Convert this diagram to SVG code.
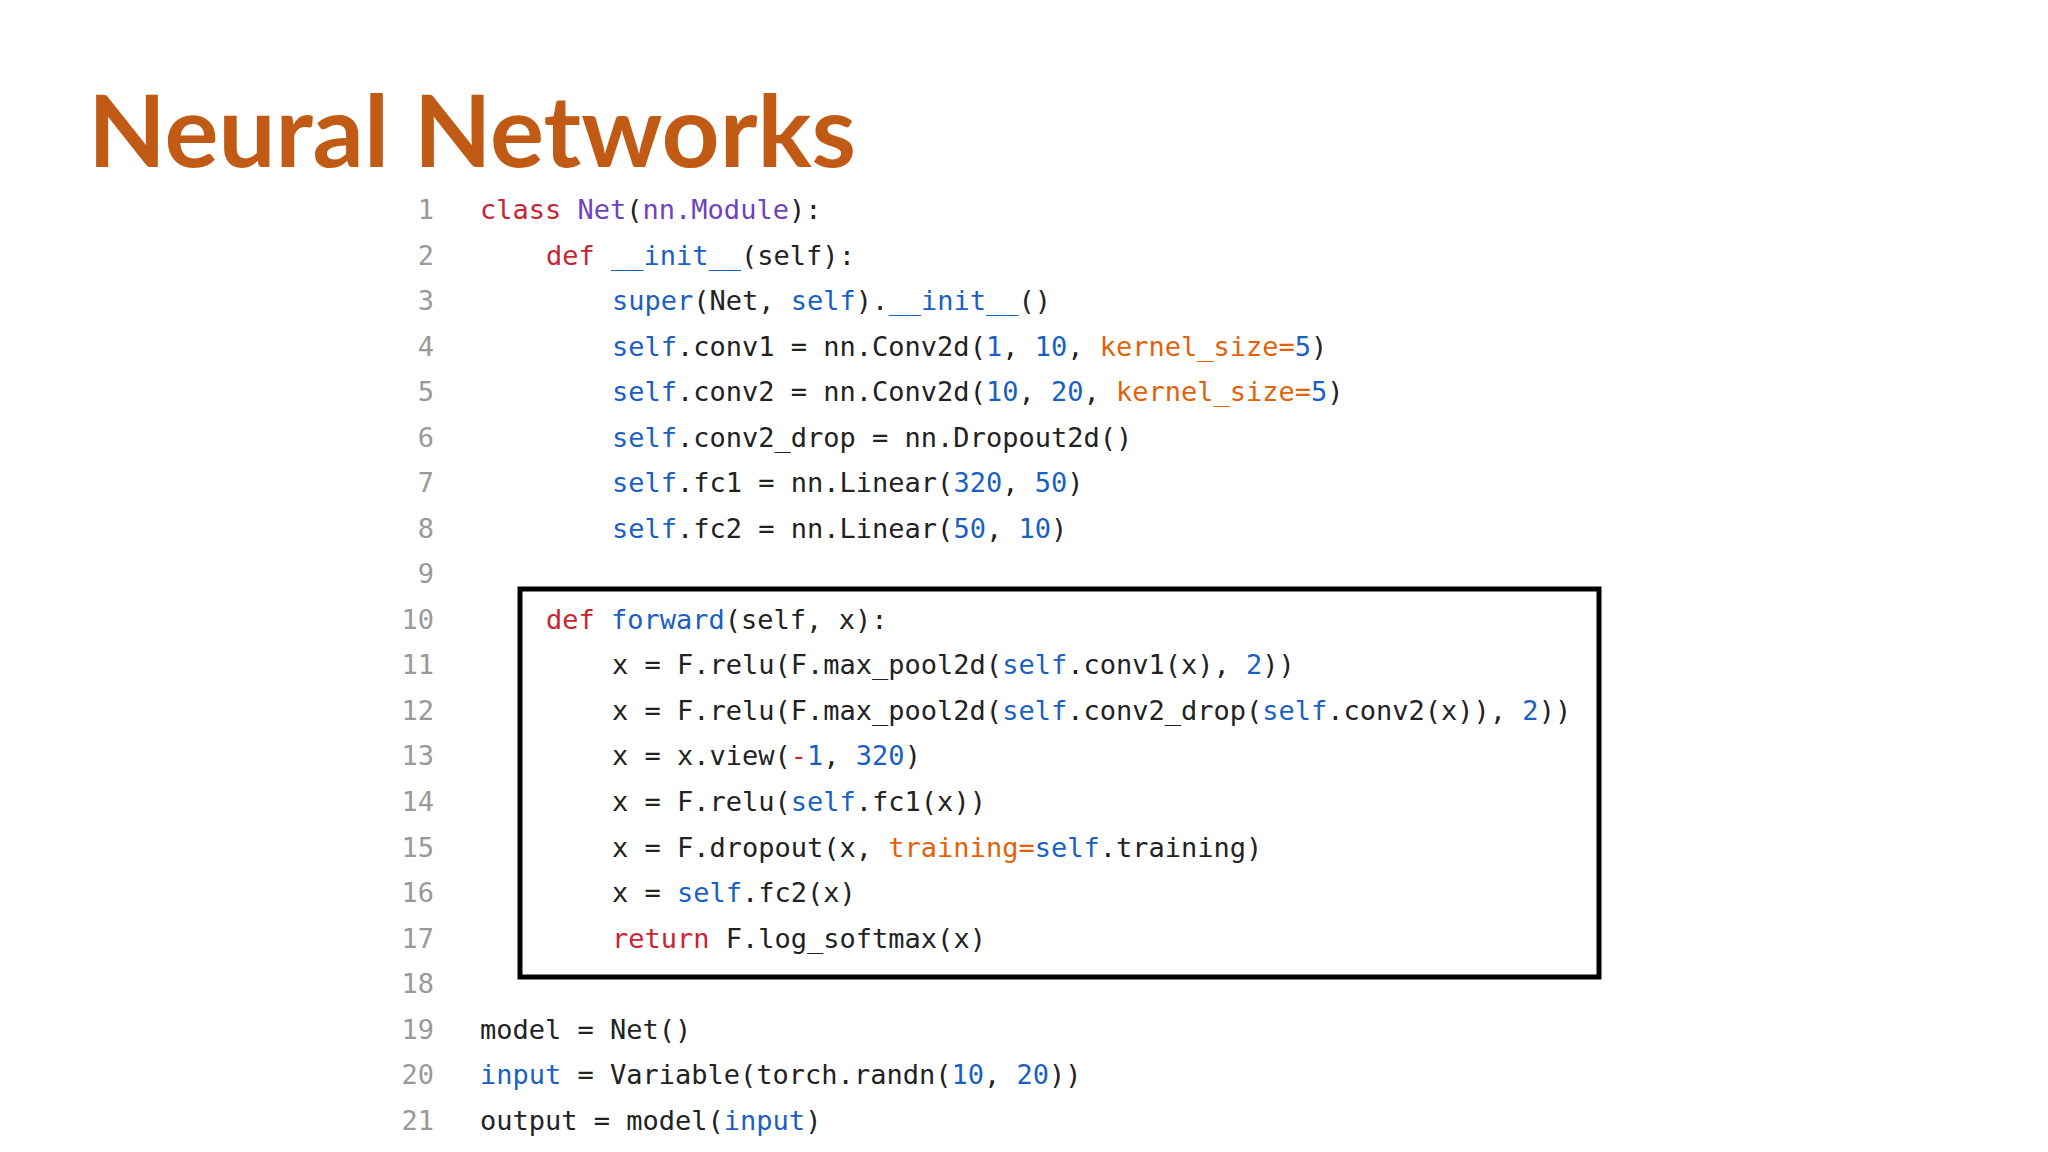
<svg xmlns="http://www.w3.org/2000/svg" width="2048" height="1152" viewBox="0 0 2048 1152">
<style>
.c{font-family:"DejaVu Sans Mono","Liberation Mono",monospace;font-size:27px;fill:#222}
.n{font-family:"DejaVu Sans Mono",monospace;font-size:27px;fill:#999;text-anchor:end}
.k{fill:#cb2431}.s{fill:#1a5fc4}.p{fill:#6f42c1}.o{fill:#e36209}
</style>
<rect width="2048" height="1152" fill="#fff"/>
<text x="88" y="167" font-family="Lato,'Liberation Sans',sans-serif" font-weight="bold" font-size="100" fill="#c05a14" textLength="768" lengthAdjust="spacingAndGlyphs">Neural Networks</text>
<g id="box"><rect x="520" y="589" width="1079" height="388" fill="none" stroke="#000" stroke-width="5"/></g>
<g id="numbers">
<text class="n" x="434" y="219">1</text><text class="n" x="434" y="265">2</text><text class="n" x="434" y="310">3</text><text class="n" x="434" y="356">4</text><text class="n" x="434" y="401">5</text><text class="n" x="434" y="447">6</text><text class="n" x="434" y="492">7</text><text class="n" x="434" y="538">8</text><text class="n" x="434" y="583">9</text><text class="n" x="434" y="629">10</text><text class="n" x="434" y="674">11</text><text class="n" x="434" y="720">12</text><text class="n" x="434" y="765">13</text><text class="n" x="434" y="811">14</text><text class="n" x="434" y="857">15</text><text class="n" x="434" y="902">16</text><text class="n" x="434" y="948">17</text><text class="n" x="434" y="993">18</text><text class="n" x="434" y="1039">19</text><text class="n" x="434" y="1084">20</text><text class="n" x="434" y="1130">21</text>
</g>
<g id="code" xml:space="preserve">
<text class="c" x="480" y="219"><tspan class="k">class</tspan> <tspan class="p">Net</tspan>(<tspan class="p">nn.Module</tspan>):</text>
<text class="c" x="546" y="265"><tspan class="k">def</tspan> <tspan class="s">__init__</tspan>(self):</text>
<text class="c" x="612" y="310"><tspan class="s">super</tspan>(Net, <tspan class="s">self</tspan>).<tspan class="s">__init__</tspan>()</text>
<text class="c" x="612" y="356"><tspan class="s">self</tspan>.conv1 = nn.Conv2d(<tspan class="s">1</tspan>, <tspan class="s">10</tspan>, <tspan class="o">kernel_size=</tspan><tspan class="s">5</tspan>)</text>
<text class="c" x="612" y="401"><tspan class="s">self</tspan>.conv2 = nn.Conv2d(<tspan class="s">10</tspan>, <tspan class="s">20</tspan>, <tspan class="o">kernel_size=</tspan><tspan class="s">5</tspan>)</text>
<text class="c" x="612" y="447"><tspan class="s">self</tspan>.conv2_drop = nn.Dropout2d()</text>
<text class="c" x="612" y="492"><tspan class="s">self</tspan>.fc1 = nn.Linear(<tspan class="s">320</tspan>, <tspan class="s">50</tspan>)</text>
<text class="c" x="612" y="538"><tspan class="s">self</tspan>.fc2 = nn.Linear(<tspan class="s">50</tspan>, <tspan class="s">10</tspan>)</text>
<text class="c" x="546" y="629"><tspan class="k">def</tspan> <tspan class="s">forward</tspan>(self, x):</text>
<text class="c" x="612" y="674">x = F.relu(F.max_pool2d(<tspan class="s">self</tspan>.conv1(x), <tspan class="s">2</tspan>))</text>
<text class="c" x="612" y="720">x = F.relu(F.max_pool2d(<tspan class="s">self</tspan>.conv2_drop(<tspan class="s">self</tspan>.conv2(x)), <tspan class="s">2</tspan>))</text>
<text class="c" x="612" y="765">x = x.view(<tspan class="k">-</tspan><tspan class="s">1</tspan>, <tspan class="s">320</tspan>)</text>
<text class="c" x="612" y="811">x = F.relu(<tspan class="s">self</tspan>.fc1(x))</text>
<text class="c" x="612" y="857">x = F.dropout(x, <tspan class="o">training=</tspan><tspan class="s">self</tspan>.training)</text>
<text class="c" x="612" y="902">x = <tspan class="s">self</tspan>.fc2(x)</text>
<text class="c" x="612" y="948"><tspan class="k">return</tspan> F.log_softmax(x)</text>
<text class="c" x="480" y="1039">model = Net()</text>
<text class="c" x="480" y="1084"><tspan class="s">input</tspan> = Variable(torch.randn(<tspan class="s">10</tspan>, <tspan class="s">20</tspan>))</text>
<text class="c" x="480" y="1130">output = model(<tspan class="s">input</tspan>)</text>
</g>
</svg>
